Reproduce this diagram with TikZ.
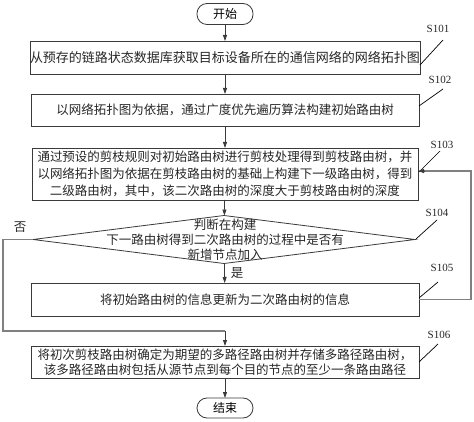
\documentclass[tikz,border=0pt]{standalone}
\usepackage{fontspec}
\setmainfont{Liberation Serif}
\newfontfamily\cjk{Noto Sans CJK SC}
\usetikzlibrary{shapes.geometric,arrows.meta,calc}
\definecolor{boxline}{HTML}{3A3A3A}
\definecolor{loopline}{HTML}{808080}
\begin{document}
\begin{tikzpicture}[x=1pt,y=-1pt,
  every node/.style={inner sep=0pt, outer sep=0pt},
  txt/.style={font=\cjk\fontsize{12.5}{17}\selectfont, align=center, text=black!85},
  procbox/.style={draw=boxline, line width=0.8pt, rectangle, minimum width=388pt},
  term/.style={draw=boxline, line width=0.8pt, rectangle, rounded corners=10pt, minimum width=56pt, minimum height=21pt, font=\cjk\fontsize{12}{14}\selectfont},
  lbl/.style={font=\fontsize{11}{13}\selectfont, text=black!85},
  lead/.style={draw=black, line width=0.7pt},
  flow/.style={draw=boxline, line width=0.8pt, -{Triangle[length=6pt,width=4pt]}},
  loopflow/.style={draw=loopline, line width=1.3pt},
]
\useasboundingbox (0,0) rectangle (474,422);

\node[term] (start) at (225,14) {开始};
\node[procbox, minimum height=33pt, txt, font=\cjk\fontsize{13}{17}\selectfont] (s1) at (225,57.5) {从预存的链路状态数据库获取目标设备所在的通信网络的网络拓扑图};
\node[procbox, minimum height=32pt, txt] (s2) at (225,110) {以网络拓扑图为依据，通过广度优先遍历算法构建初始路由树};
\node[procbox, minimum width=386pt, minimum height=52pt, txt] (s3) at (225,174) {通过预设的剪枝规则对初始路由树进行剪枝处理得到剪枝路由树，并\\以网络拓扑图为依据在剪枝路由树的基础上构建下一级路由树，得到\\二级路由树，其中，该二次路由树的深度大于剪枝路由树的深度};
\node[draw=boxline, line width=0.8pt, diamond, minimum width=382pt, minimum height=48pt] (d) at (224,239.5) {};
\node[txt, font=\cjk\fontsize{12.5}{15}\selectfont] (dt) at (225,240) {判断在构建\\下一路由树得到二次路由树的过程中是否有\\新增节点加入};
\node[procbox, minimum height=33pt, txt] (s5) at (225,299.5) {将初始路由树的信息更新为二次路由树的信息};
\node[procbox, minimum height=32pt, txt, font=\cjk\fontsize{12.5}{14.5}\selectfont] (s6) at (225,362) {将初次剪枝路由树确定为期望的多路径路由树并存储多路径路由树，\\该多路径路由树包括从源节点到每个目的节点的至少一条路由路径};
\node[term, minimum height=20pt] (end) at (225,408) {结束};

\node[txt] (yes) at (237,273) {是};
\node[txt] (no) at (20,227) {否};

\node[lbl] (l1) at (438,29) {S101};
\node[lbl] (l2) at (440,80) {S102};
\node[lbl] (l3) at (442,145) {S103};
\node[lbl] (l4) at (437,213) {S104};
\node[lbl] (l5) at (442,268) {S105};
\node[lbl] (l6) at (439,335) {S106};

\coordinate (e1) at (443,40);
\coordinate (e2) at (443,89);
\coordinate (e3) at (440,151);
\coordinate (e4) at (437,220);
\coordinate (e5) at (438,282);
\coordinate (e6) at (438,344);

\draw[lead] ($(s1.east)+(0,7.5)$) -- (e1);
\draw[lead] ($(s2.east)+(0,-4)$) -- (e2);
\draw[lead] ($(s3.east)+(1,-2)$) -- (e3);
\draw[lead] ($(d.east)+(1,-0.5)$) -- (e4);
\draw[lead] ($(s5.east)+(0,-1.5)$) -- (e5);
\draw[lead] (s6.east) -- (e6);

\draw[flow] (start) -- (s1);
\draw[flow] (s1) -- (s2);
\draw[flow] (s2) -- (s3);
\draw[flow] (s3) -- (d);
\draw[flow] (d) -- (s5);
\draw[flow] (s6) -- (end);

\coordinate (nl) at (3,331);
\coordinate (fb) at (471,171);
\draw[loopflow] (d.west) -| (nl) -- (nl -| s6.north);
\draw[flow] (nl -| s6.north) -- (s6.north);
\draw[loopflow] (s5.east) -| (fb) -- ($(fb -| s3.east)+(6,0)$);
\draw[flow] ($(fb -| s3.east)+(6,0)$) -- (fb -| s3.east);
\end{tikzpicture}
\end{document}
